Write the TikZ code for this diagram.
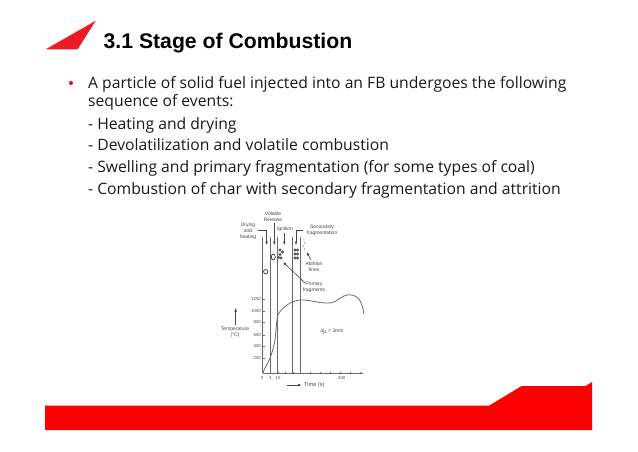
\documentclass[tikz,border=0pt]{standalone}
\usepackage{fontspec}
\setmainfont{Open Sans}
\newfontfamily\plotfont{Liberation Sans}
\usetikzlibrary{arrows.meta}
\definecolor{brandred}{RGB}{255,0,0}
\definecolor{wedgered}{RGB}{237,28,36}
\definecolor{bodytext}{RGB}{25,25,25}
\definecolor{plotgray}{RGB}{105,105,105}
\definecolor{plotdark}{RGB}{70,70,70}
\tikzset{
  bodyline/.style={anchor=base west,inner sep=0pt,font=\fontsize{15.7}{18}\selectfont,text=bodytext},
  tiny/.style={inner sep=0pt,font=\plotfont\fontsize{5}{6}\selectfont,text=plotdark,align=center},
  ticklab/.style={inner sep=0pt,font=\plotfont\fontsize{4.3}{5}\selectfont,text=plotdark},
  vline/.style={draw=plotgray,line width=0.9pt},
  curve/.style={draw=plotgray,line width=0.8pt},
  lead/.style={draw=plotdark,line width=0.6pt,-{Latex[length=3.5pt,width=2.8pt]}}
}
\begin{document}
\begin{tikzpicture}[x=1pt,y=-1pt]
\useasboundingbox (0,0) rectangle (638,451);
\fill[wedgered] (45.7,49.3) -- (95.7,20.7) -- (77.7,49.3) -- cycle;
\node[anchor=base west,inner sep=0pt,font=\fontspec{Liberation Sans}\bfseries\fontsize{21.2}{24}\selectfont,text=black] (title) at (103.5,48.5) {3.1 Stage of Combustion};
\fill[brandred] (45,405.7) -- (489,405.7) -- (521.7,386) -- (585.7,386) -- (592,382) -- (592,430) -- (45,430) -- cycle;
\fill[red] (71,83) circle (2);
\node[bodyline] (l1) at (88,88.3) {A particle of solid fuel injected into an FB undergoes the following};
\node[bodyline] (l2) at (88,106.7) {sequence of events:};
\node[bodyline] (l3) at (88,129) {- Heating and drying};
\node[bodyline] (l4) at (88,150.3) {- Devolatilization and volatile combustion};
\node[bodyline] (l5) at (88,172.3) {- Swelling and primary fragmentation (for some types of coal)};
\node[bodyline] (l6) at (88,194) {- Combustion of char with secondary fragmentation and attrition};
% plot
\foreach \x in {262.7,270.7,277.7,292.7,300.3}{\draw[vline] (\x,237) -- (\x,373.3);}
\draw[vline] (262.7,373.3) -- (363,373.3);
\foreach \x in {270,278,285,293,300,310,320,330,340,350,360}{\draw[plotgray,line width=0.4pt] (\x,373.3) -- (\x,371.5);}
\foreach \y/\t in {299.3/1200,311/1000,322.3/800,334.7/600,346/400,358/200}{
  \node[ticklab,anchor=east] (t\t) at (261,\y) {\t};
  \draw[plotgray,line width=0.4pt] (262.7,\y) -- (264.5,\y);
}
\draw[curve] (262.7,373.3) .. controls (265,367) and (268,363) .. (270,358.3)
  .. controls (272,353) and (274,346) .. (275,340)
  .. controls (276,332) and (276.5,322) .. (277.7,315)
  .. controls (280,311) and (282,309) .. (285,306.7)
  .. controls (289,303) and (294,300.5) .. (300,300)
  .. controls (306,299.7) and (310,300.8) .. (315,301.7)
  .. controls (321,302.7) and (327,303.5) .. (331.7,302.7)
  .. controls (337,301.5) and (342,295.5) .. (348.3,294.7)
  .. controls (352,294.3) and (355,295.5) .. (358.3,298.3)
  .. controls (361,301) and (363,308) .. (364,314);
\node[tiny] (drying) at (248,231) {Drying\\and\\heating};
\node[tiny] (volatile) at (273,217) {Volatile\\Release};
\node[tiny] (ignition) at (285,229) {Ignition};
\node[tiny] (secondary) at (322,230) {Secondary\\fragmentation};
\node[tiny] (attrition) at (314,267) {Attrition\\fines};
\node[tiny] (primary) at (314,287.5) {Primary\\fragments};
\node[tiny] (temp) at (235,332) {Temperature\\(°C)};
\node[tiny] (dp) at (332,331.7) {{\itshape d}\textsubscript{p} = 3mm};
\node[ticklab] (x0) at (262,377.7) {0};
\node[ticklab] (x3) at (270.3,377.7) {3};
\node[ticklab] (x15) at (278,377.7) {15};
\node[ticklab] (x200) at (341.7,377.7) {200};
\node[tiny,anchor=west,font=\plotfont\fontsize{5.6}{6}\selectfont] (time) at (304,385) {Time (s)};
\coordinate (timestart) at (286.7,385);
\draw[lead,shorten >=2.5pt] (timestart) -- (time.west);
\coordinate (tempup) at (235.7,325);
\coordinate (temptop) at (235.7,308);
\draw[lead] (tempup) -- (temptop);
\coordinate (dry1) at (258,230);
\coordinate (dry2) at (266.7,230);
\coordinate (dry3) at (266.7,245);
\draw[lead] (dry1) -- (dry2) -- (dry3);
\coordinate (vol1) at (274.3,223);
\coordinate (vol2) at (274.3,245);
\draw[lead] (vol1) -- (vol2);
\coordinate (ign1) at (284.3,233);
\coordinate (ign2) at (284.3,245);
\draw[lead] (ign1) -- (ign2);
\coordinate (sec1) at (303,230);
\coordinate (sec2) at (296,230);
\coordinate (sec3) at (296,245);
\draw[lead] (sec1) -- (sec2) -- (sec3);
\coordinate (att1) at (311,260);
\coordinate (att2) at (306.7,252);
\draw[lead] (att1) -- (att2);
\coordinate (prim1) at (305,283);
\coordinate (prim2) at (283,262);
\draw[lead] (prim1) -- (prim2);
% particles
\draw[plotdark,line width=0.8pt] (265.7,271.7) circle (2.2);
\draw[plotdark,line width=0.8pt] (273.3,257) ellipse (2 and 3);
\foreach \x/\y in {280/250,282.5/252,280/254.5,278.7/257.5,281/258,295/250,297.5/250,295/254,297.5/254,295/258,297.5/258}{\draw[plotdark,line width=0.6pt] (\x,\y) circle (1.1);}
\foreach \x/\y in {304/240,304.5/243,303.5/246,304.5/249}{\fill[plotgray] (\x,\y) circle (0.6);}
\end{tikzpicture}
\end{document}
